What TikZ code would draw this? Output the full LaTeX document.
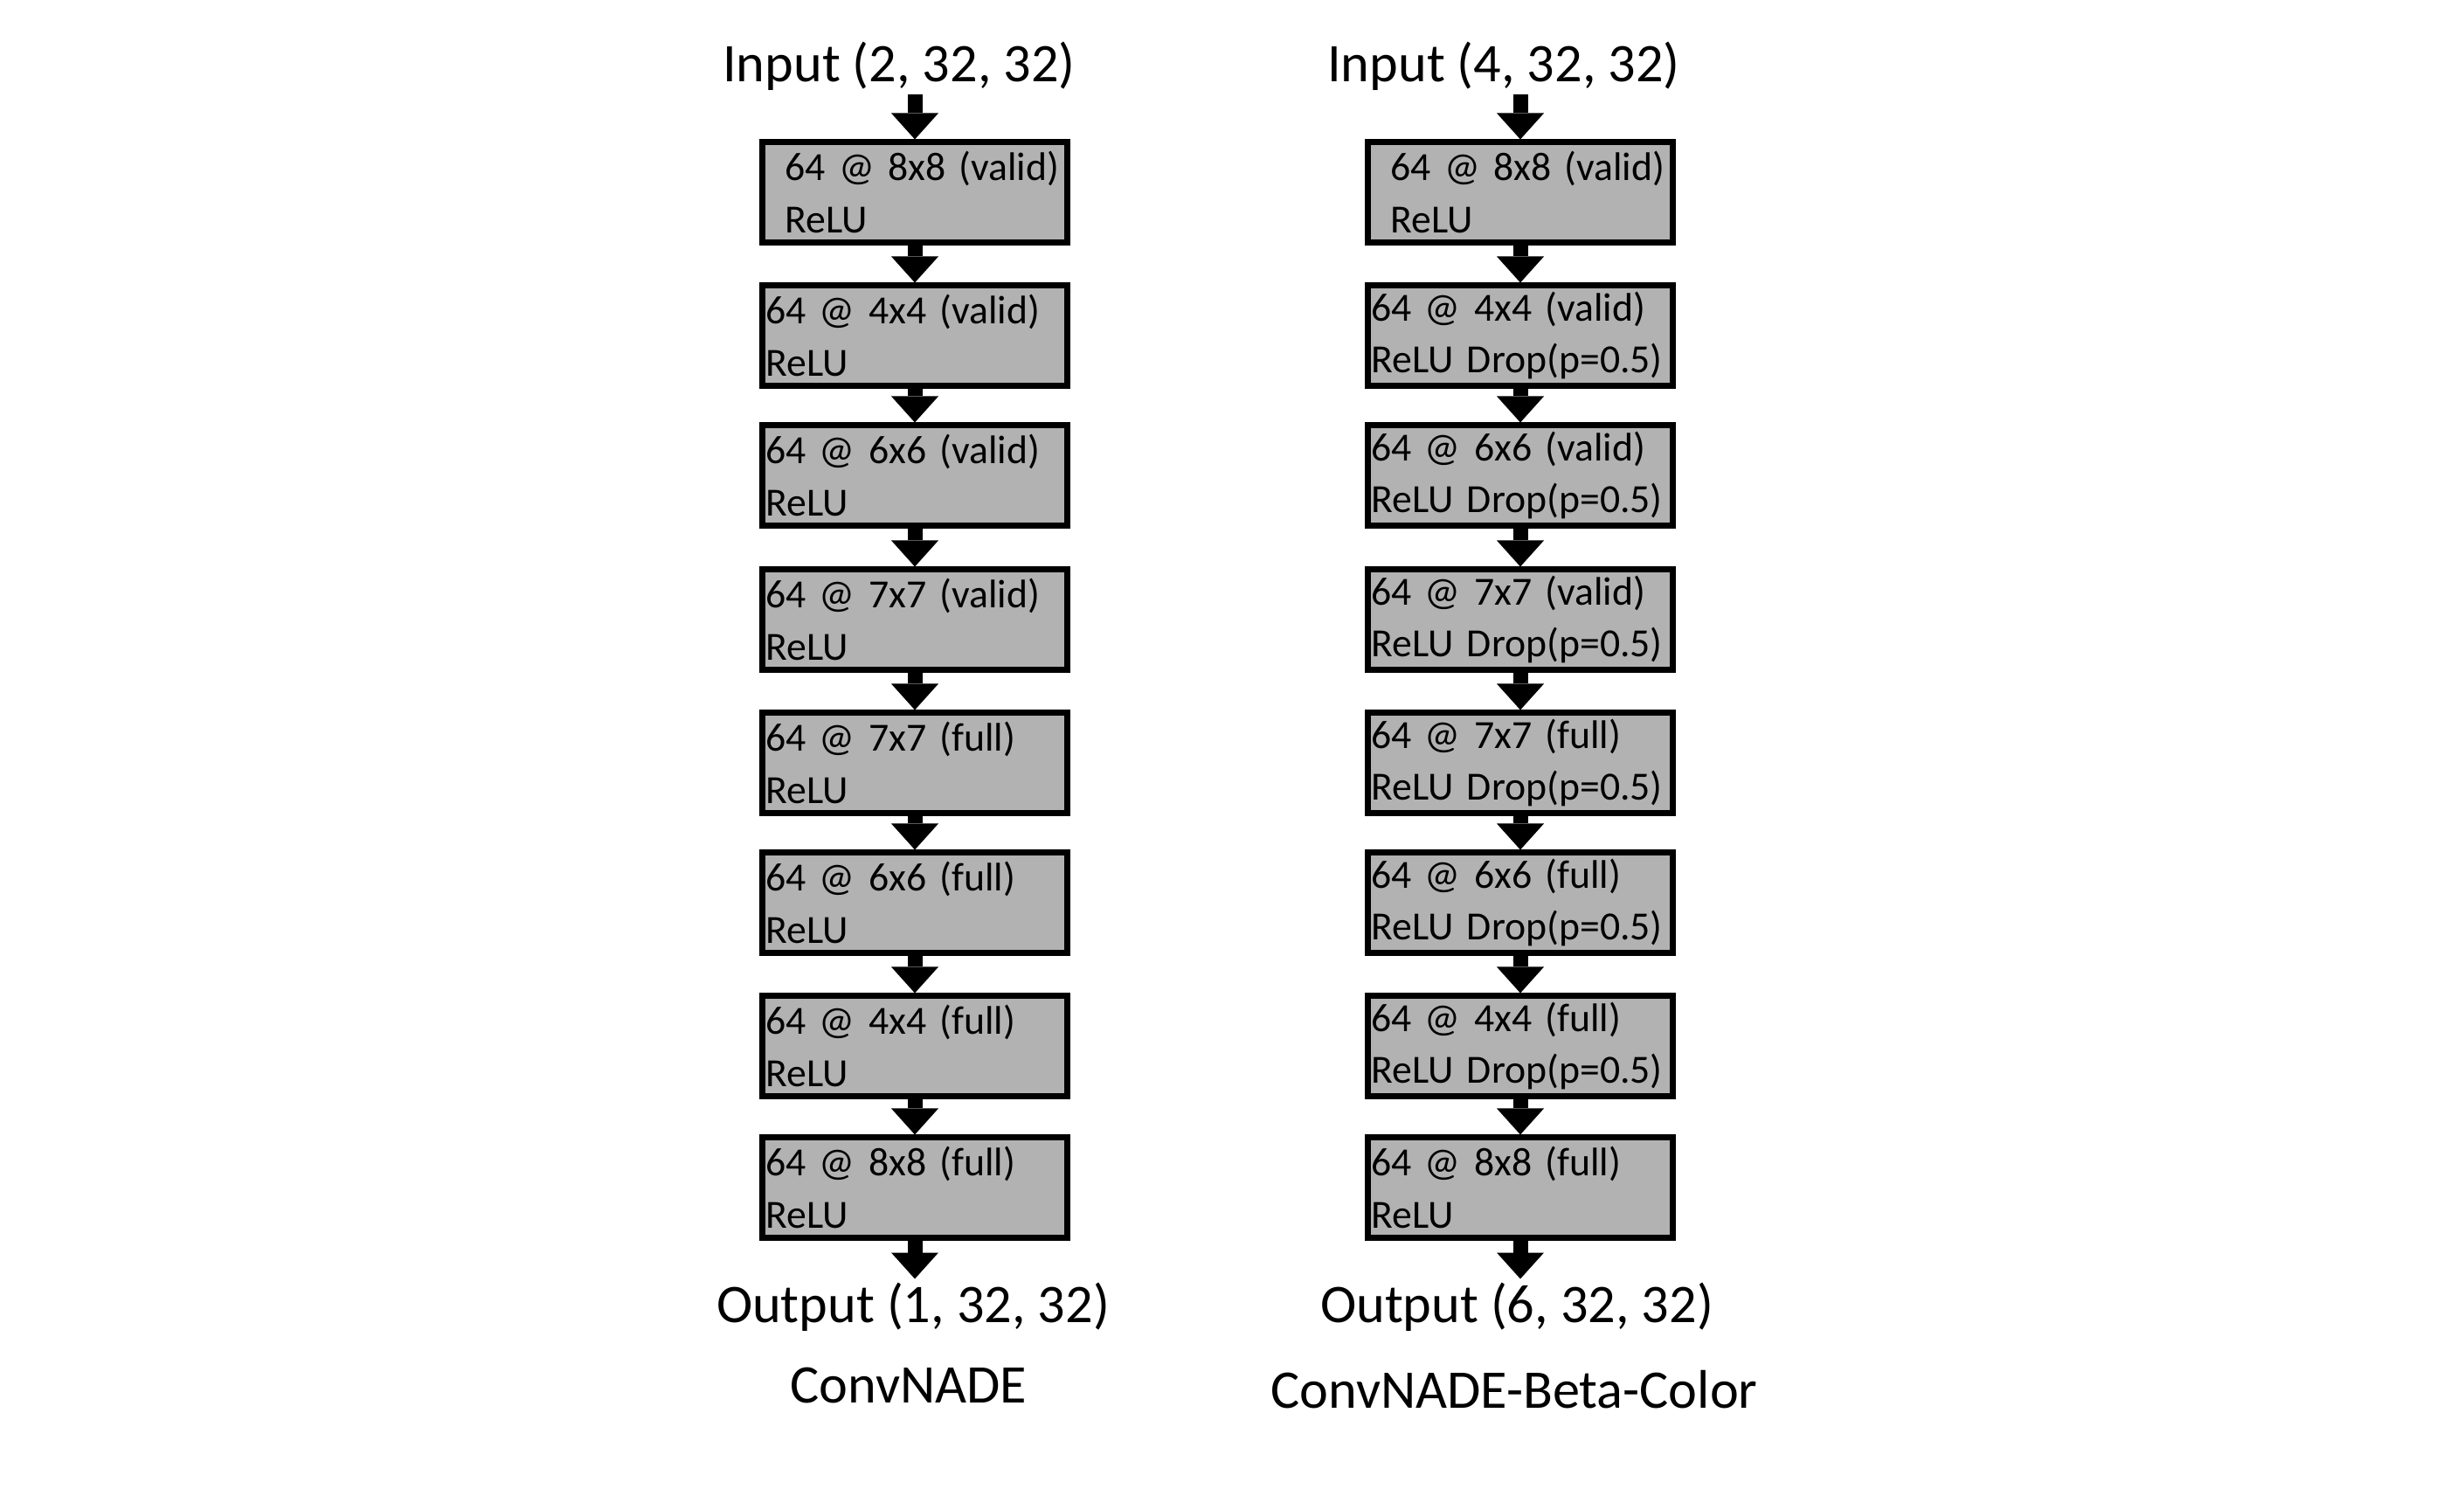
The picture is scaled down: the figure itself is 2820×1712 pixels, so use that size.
\documentclass[tikz,border=0pt]{standalone}
\usepackage{fontspec}
\setmainfont{Carlito}
\usetikzlibrary{arrows.meta}
\definecolor{boxgray}{RGB}{178,178,178}
\newcommand{\lpad}{\hspace*{0.22cm}}

\begin{document}
\begin{tikzpicture}[x=0.01cm,y=-0.01cm,
  layer/.style={draw,line width=0.07cm,fill=boxgray,text width=3.41cm,align=left,minimum height=1.14cm,inner xsep=0.04cm,inner ysep=0pt,font=\fontsize{13}{17}\selectfont},
  io/.style={inner sep=0.04cm,font=\fontsize{17.7}{21}\selectfont},
  flow/.style={-{Triangle[width=0.54cm,length=0.3cm,line width=0pt]},line width=0.17cm}]
\useasboundingbox (0,0) rectangle (2820,1712);
% ConvNADE
\node[io] (ina) at (1029,76) {Input (2, 32, 32)};
\node[layer] (a1) at (1047,220) {\lpad 64 @ 8x8 (valid)\\\lpad ReLU};
\node[layer] (a2) at (1047,384) {64 @ 4x4 (valid)\\ReLU};
\node[layer] (a3) at (1047,544) {64 @ 6x6 (valid)\\ReLU};
\node[layer] (a4) at (1047,709) {64 @ 7x7 (valid)\\ReLU};
\node[layer] (a5) at (1047,873) {64 @ 7x7 (full)\\ReLU};
\node[layer] (a6) at (1047,1033) {64 @ 6x6 (full)\\ReLU};
\node[layer] (a7) at (1047,1197) {64 @ 4x4 (full)\\ReLU};
\node[layer] (a8) at (1047,1359) {64 @ 8x8 (full)\\ReLU};
\node[io] (outa) at (1045,1496) {Output (1, 32, 32)};
\node[io] (capa) at (1040,1586) {ConvNADE};
% ConvNADE-Beta-Color
\node[io] (inb) at (1721,76) {Input (4, 32, 32)};
\node[layer] (b1) at (1740,220) {\lpad 64 @ 8x8 (valid)\\\lpad ReLU};
\node[layer] (b2) at (1740,384) {64 @ 4x4 (valid)\\ReLU Drop(p=0.5)};
\node[layer] (b3) at (1740,544) {64 @ 6x6 (valid)\\ReLU Drop(p=0.5)};
\node[layer] (b4) at (1740,709) {64 @ 7x7 (valid)\\ReLU Drop(p=0.5)};
\node[layer] (b5) at (1740,873) {64 @ 7x7 (full)\\ReLU Drop(p=0.5)};
\node[layer] (b6) at (1740,1033) {64 @ 6x6 (full)\\ReLU Drop(p=0.5)};
\node[layer] (b7) at (1740,1197) {64 @ 4x4 (full)\\ReLU Drop(p=0.5)};
\node[layer] (b8) at (1740,1359) {64 @ 8x8 (full)\\ReLU};
\node[io] (outb) at (1736,1496) {Output (6, 32, 32)};
\node[io] (capb) at (1733,1590) {ConvNADE-Beta-Color};
% arrows
\draw[flow] (a1.north |- ina.south) -- (a1.north);
\draw[flow] (a1) -- (a2);
\draw[flow] (a2) -- (a3);
\draw[flow] (a3) -- (a4);
\draw[flow] (a4) -- (a5);
\draw[flow] (a5) -- (a6);
\draw[flow] (a6) -- (a7);
\draw[flow] (a7) -- (a8);
\draw[flow] (a8.south) -- (a8.south |- outa.north);
\draw[flow] (b1.north |- inb.south) -- (b1.north);
\draw[flow] (b1) -- (b2);
\draw[flow] (b2) -- (b3);
\draw[flow] (b3) -- (b4);
\draw[flow] (b4) -- (b5);
\draw[flow] (b5) -- (b6);
\draw[flow] (b6) -- (b7);
\draw[flow] (b7) -- (b8);
\draw[flow] (b8.south) -- (b8.south |- outb.north);
\end{tikzpicture}
\end{document}
